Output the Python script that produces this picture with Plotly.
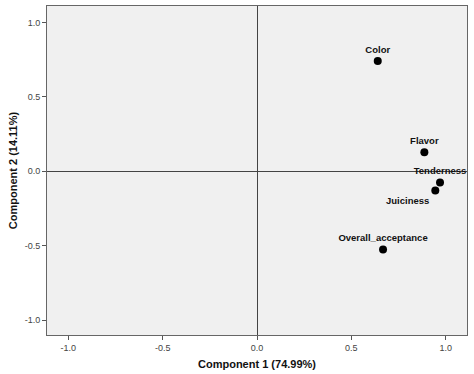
import plotly.graph_objects as go

variables = ["Color", "Flavor", "Tenderness", "Juiciness", "Overall_acceptance"]
comp1 = [0.64, 0.887, 0.97, 0.945, 0.668]
comp2 = [0.74, 0.128, -0.076, -0.13, -0.525]
label_pos = ["top center", "top center", "top center", "bottom left", "top center"]

tick_vals = [-1.0, -0.5, 0.0, 0.5, 1.0]
tick_text = ["-1.0", "-0.5", "0.0", "0.5", "1.0"]

fig = go.Figure()
fig.add_trace(go.Scatter(
    x=comp1, y=comp2, mode="markers+text",
    text=variables, textposition=label_pos,
    textfont=dict(family="Liberation Sans", size=9.5, color="#111111", weight="bold"),
    marker=dict(color="black", size=8),
    cliponaxis=False,
    showlegend=False,
))

axis_common = dict(
    tickvals=tick_vals, ticktext=tick_text,
    ticks="outside", ticklen=4, tickcolor="#555555", tickwidth=1,
    tickfont=dict(family="Liberation Sans", size=9, color="#444444"),
    showgrid=False,
    zeroline=True, zerolinecolor="#444444", zerolinewidth=1,
    showline=True, linecolor="#666666", linewidth=1, mirror=True,
    automargin=False,
)

fig.update_layout(
    width=474, height=374,
    margin=dict(l=47, r=7, t=6, b=39),
    paper_bgcolor="white",
    plot_bgcolor="#F0F0F0",
    xaxis=dict(**axis_common, range=[-1.113, 1.113],
               title=dict(text="<b>Component 1 (74.99%)</b>", standoff=8,
                          font=dict(family="Liberation Sans", size=11, color="#111111"))),
    yaxis=dict(**axis_common, range=[-1.10, 1.11],
               title=dict(text="<b>Component 2 (14.11%)</b>", standoff=4,
                          font=dict(family="Liberation Sans", size=11, color="#111111"))),
)

fig.write_html("out.html", config={"displayModeBar": False},
               post_script="document.body.style.margin='0';")
